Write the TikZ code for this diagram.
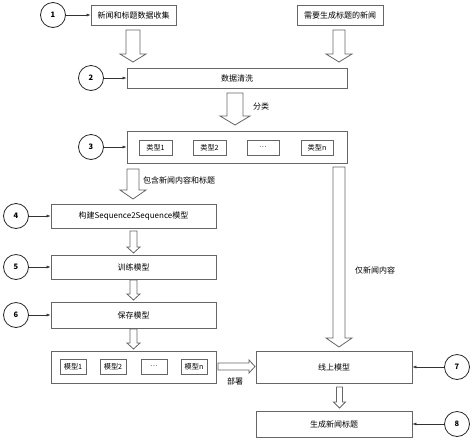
\documentclass[tikz,border=0pt]{standalone}
\usepackage{fontspec}
\setmainfont{Noto Sans CJK SC}
\usetikzlibrary{arrows.meta}
\tikzset{
  box/.style={draw=black!60, line width=0.8pt, inner sep=0pt, font=\fontsize{8}{9}\selectfont, text=black},
  ibox/.style={draw=black!60, line width=0.7pt, inner sep=0pt, font=\fontsize{7.2}{8}\selectfont, text=black},
  num/.style={circle, draw=black!85, line width=0.8pt, minimum size=25pt, inner sep=0pt, font=\fontsize{7.5}{9}\selectfont\bfseries},
  lab/.style={inner sep=0pt, font=\fontsize{8}{9}\selectfont, text=black},
  pointer/.style={draw=black!80, line width=0.6pt, -{Latex[length=4pt,width=3pt]}},
  harrow/.style={draw=black!60, line width=0.8pt, fill=white, line join=miter}
}
\newcommand\vhollow[6]{%
  \draw[harrow] (#1-#5,#2) -- (#1+#5,#2) -- (#1+#5,#3) -- (#1+#6,#3) -- (#1,#4) -- (#1-#6,#3) -- (#1-#5,#3) -- cycle;}
\newcommand\hhollow[6]{%
  \draw[harrow] (#2,#1-#5) -- (#2,#1+#5) -- (#3,#1+#5) -- (#3,#1+#6) -- (#4,#1) -- (#3,#1-#6) -- (#3,#1-#5) -- cycle;}
\begin{document}
\begin{tikzpicture}[x=1pt,y=-1pt]
\useasboundingbox[fill=white] (0,0) rectangle (474,440);
% boxes
\node[box, minimum width=85, minimum height=20] (b1) at (133.5,15) {新闻和标题数据收集};
\node[box, minimum width=86, minimum height=20] (b1r) at (340,15) {需要生成标题的新闻};
\node[box, minimum width=220, minimum height=20] (b2) at (237,78) {数据清洗};
\node[box, minimum width=220, minimum height=32] (b3) at (237,147) {};
\node[ibox, minimum width=33, minimum height=15] (t1) at (155.5,147.5) {类型1};
\node[ibox, minimum width=33, minimum height=15] (t2) at (209.5,147.5) {类型2};
\node[ibox, minimum width=32, minimum height=15] (t3) at (263,147.5) {…};
\node[ibox, minimum width=32, minimum height=15] (t4) at (317,147.5) {类型n};
\node[box, minimum width=165, minimum height=24] (b4) at (133.5,216) {构建Sequence2Sequence模型};
\node[box, minimum width=165, minimum height=24] (b5) at (133.5,267) {训练模型};
\node[box, minimum width=165, minimum height=26] (b6) at (133.5,315) {保存模型};
\node[box, minimum width=165, minimum height=32] (b7) at (133.5,367) {};
\node[ibox, minimum width=26, minimum height=15] (m1) at (73,366.5) {模型1};
\node[ibox, minimum width=26, minimum height=15] (m2) at (113,366.5) {模型2};
\node[ibox, minimum width=26, minimum height=15] (m3) at (154,366.5) {…};
\node[ibox, minimum width=26, minimum height=15] (m4) at (194,366.5) {模型n};
\node[box, minimum width=156, minimum height=32] (b8) at (334,367) {线上模型};
\node[box, minimum width=156, minimum height=26] (b9) at (334,424) {生成新闻标题};
% circles
\node[num] (c1) at (53,15) {1};
\node[num] (c2) at (91,78) {2};
\node[num] (c3) at (91,147) {3};
\node[num] (c4) at (16,216) {4};
\node[num] (c5) at (16,267) {5};
\node[num] (c6) at (16,315) {6};
\node[num] (c7) at (457,367) {7};
\node[num] (c8) at (457,424) {8};
\draw[pointer] (c1) -- (b1);
\draw[pointer] (c2) -- (b2);
\draw[pointer] (c3) -- (b3);
\draw[pointer] (c4) -- (b4);
\draw[pointer] (c5) -- (b5);
\draw[pointer] (c6) -- (b6);
\draw[pointer] (c7) -- (b8);
\draw[pointer] (c8) -- (b9);
% hollow arrows
\vhollow{133}{30}{54}{62}{7}{13}
\vhollow{339}{30}{54}{62}{6}{13}
\vhollow{235}{93}{116}{125}{8}{15}
\vhollow{133}{169}{190}{199}{6}{13}
\vhollow{339}{167}{338}{347}{6}{13}
\vhollow{133.5}{231}{247}{253}{3.5}{6.5}
\vhollow{133.5}{280}{294}{300}{3.5}{6.5}
\vhollow{133.5}{329}{343}{349}{3.5}{6.5}
\vhollow{339.5}{387}{402}{408}{3}{6}
\hhollow{366.5}{218}{249}{255}{3.5}{6.5}
% labels
\node[lab, anchor=west] (l1) at (253,106) {分类};
\node[lab, anchor=west] (l2) at (143,180) {包含新闻内容和标题};
\node[lab, anchor=west] (l3) at (355,270) {仅新闻内容};
\node[lab] (l4) at (235,381) {部署};
\end{tikzpicture}
\end{document}
